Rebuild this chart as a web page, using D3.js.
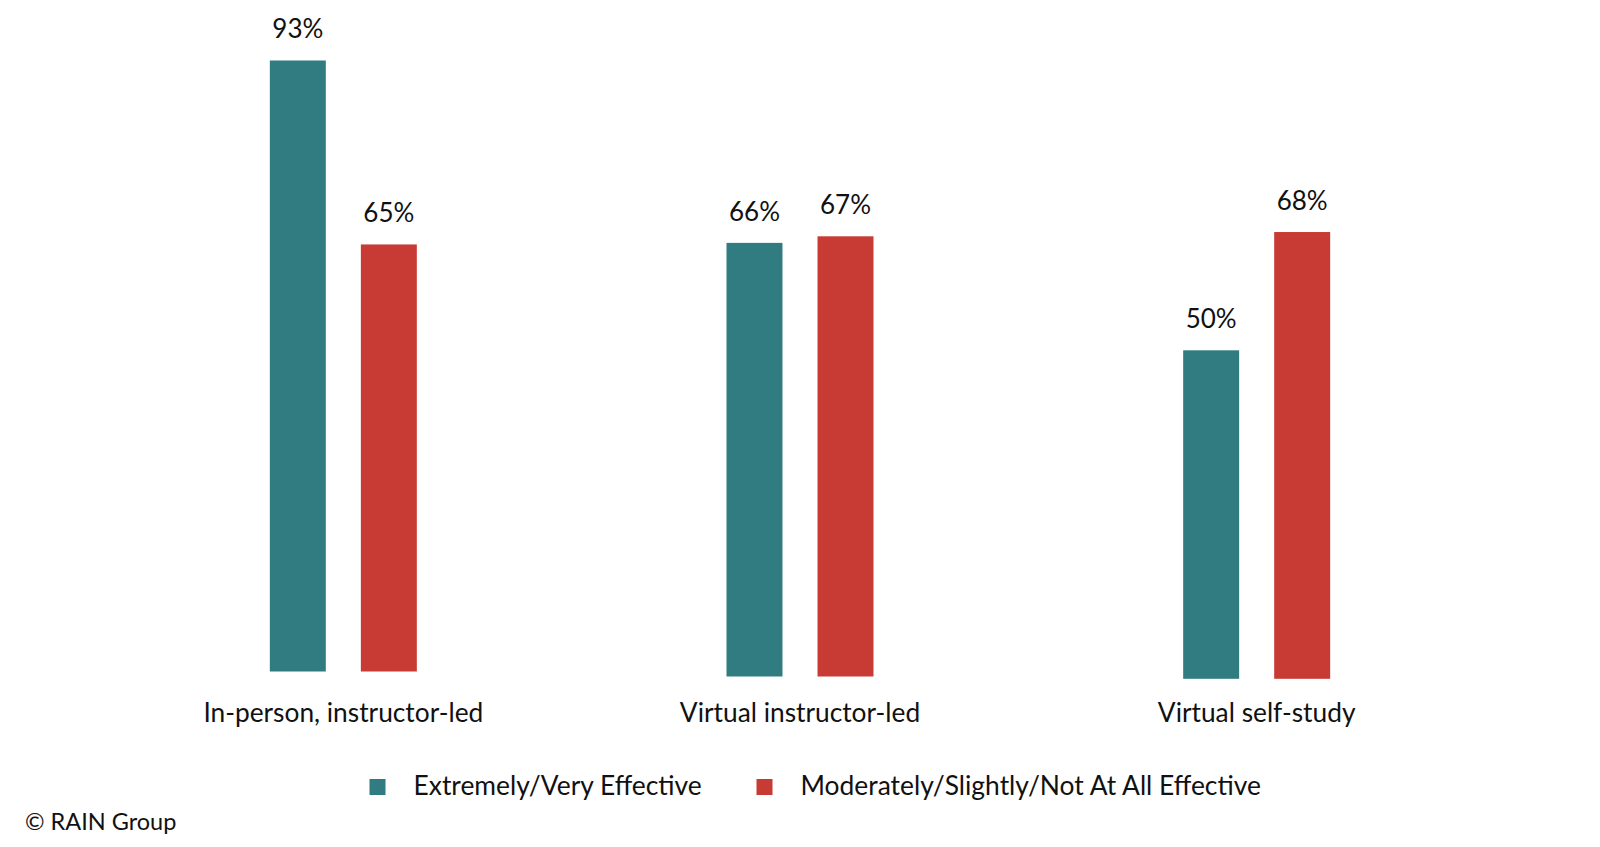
<!DOCTYPE html>
<html>
<head>
<meta charset="utf-8">
<script src="https://cdn.jsdelivr.net/npm/d3@7"></script>
<style>
    html, body { margin: 0; padding: 0; background: #ffffff; }
    svg { display: block; font-family: Lato, "Noto Sans", sans-serif; }
</style>
</head>
<body>
<div id="chart"></div>
<script>
// Data

const categories = ["In-person, instructor-led", "Virtual instructor-led", "Virtual self-study"];
const seriesNames = ["Extremely/Very Effective", "Moderately/Slightly/Not At All Effective"];
const effective = [93, 66, 50];                                          // Extremely/Very Effective (%)
const notEffective = [65, 67, 68];                                       // Moderately/Slightly/Not At All Effective (%)

// Layout

const width = 1600, height = 847;
const colors = ["#317c80", "#c83a34"];
const baseY = [671.5, 676.5, 678.8];                                     // each group sits on its own baseline in the original
const barSpan = 147;                                                     // two bars + gap inside one group

const svg = d3.select("#chart").append("svg")
    .attr("width", width)
    .attr("height", height);

const x0 = d3.scaleBand().domain(categories).range([115, 1485]);         // group positions
const x1 = d3.scaleBand().domain(seriesNames).range([0, barSpan]).paddingInner(0.385);  // bars inside a group
const yLen = d3.scaleLinear().domain([0, 100]).range([0, 657]);          // bar length per percent

const rows = categories.map((c, i) => ({
    category: c,
    base: baseY[i],
    values: [effective[i], notEffective[i]]
}));

const group = svg.selectAll(".group")
    .data(rows)
    .enter()
    .append("g")
        .attr("class", "group")
        .attr("transform", d => "translate(" + (x0(d.category) + x0.bandwidth() / 2 - barSpan / 2) + ",0)");

const bar = group.selectAll(".bar")
    .data(d => d.values.map((v, j) => ({ name: seriesNames[j], value: v, base: d.base, color: colors[j] })))
    .enter();

bar.append("rect")
    .attr("class", "bar")
    .attr("x", d => x1(d.name))
    .attr("y", d => d.base - yLen(d.value))
    .attr("width", x1.bandwidth())
    .attr("height", d => yLen(d.value))
    .attr("fill", d => d.color);

bar.append("text")
    .attr("x", d => x1(d.name) + x1.bandwidth() / 2)
    .attr("y", d => d.base - yLen(d.value) - 22)
    .attr("text-anchor", "middle")
    .attr("font-size", 26)
    .attr("fill", "#111")
    .text(d => d.value + "%");

// Category labels

svg.selectAll(".cat")
    .data(categories)
    .enter()
    .append("text")
        .attr("class", "cat")
        .attr("x", d => x0(d) + x0.bandwidth() / 2)
        .attr("y", 721.5)
        .attr("text-anchor", "middle")
        .attr("font-size", 26.3)
        .attr("fill", "#111")
        .text(d => d);

// Legend

const legendX = [369.5, 756.5];
const legend = svg.selectAll(".legend")
    .data(seriesNames)
    .enter()
    .append("g")
        .attr("class", "legend")
        .attr("transform", (d, i) => "translate(" + legendX[i] + ",779)");

legend.append("rect")
    .attr("width", 16)
    .attr("height", 16)
    .attr("fill", (d, i) => colors[i]);

legend.append("text")
    .attr("x", 44)
    .attr("y", 16)
    .attr("font-size", 26.4)
    .attr("fill", "#111")
    .text(d => d);

// Copyright

svg.append("text")
    .attr("x", 25)
    .attr("y", 830)
    .attr("font-size", 23.5)
    .attr("fill", "#111")
    .text("© RAIN Group");
</script>
</body>
</html>
